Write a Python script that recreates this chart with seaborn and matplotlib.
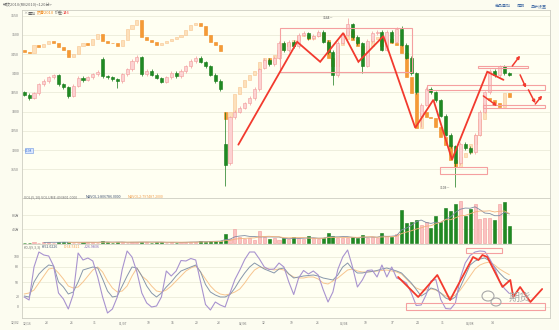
import numpy as np
import matplotlib
matplotlib.use('Agg')
import matplotlib.pyplot as plt
import seaborn as sns
from matplotlib.patches import Rectangle, Ellipse

# ---------------- data ----------------
main_open = [3350, 3344, 3336, 3348, 3372, 3380, 3390, 3395, 3372, 3365,
             3342, 3368, 3389, 3383, 3390, 3398, 3438, 3392, 3390, 3384,
             3380, 3398, 3410, 3432, 3443, 3398, 3406, 3396, 3388, 3378,
             3390, 3402, 3392, 3406, 3418, 3432, 3440, 3430, 3418, 3396,
             3380, 3215, 3165, 3285, 3300, 3310, 3322, 3335, 3360, 3415,
             3435, 3425, 3440, 3480, 3460, 3482, 3470, 3500, 3505, 3492,
             3498, 3508, 3482, 3455, 3395, 3480, 3500, 3528, 3495, 3478,
             3420, 3485, 3505, 3508, 3462, 3508, 3482, 3515, 3475, 3440,
             3400, 3290, 3318, 3360, 3350, 3330, 3290, 3240, 3210, 3165,
             3215, 3205, 3195, 3240, 3300, 3350, 3405, 3395, 3418, 3400]
main_close = [3344, 3336, 3348, 3372, 3380, 3390, 3395, 3372, 3365, 3342,
              3368, 3389, 3383, 3390, 3398, 3404, 3392, 3390, 3384, 3380,
              3398, 3410, 3432, 3443, 3398, 3406, 3396, 3388, 3378, 3390,
              3402, 3392, 3406, 3418, 3432, 3440, 3430, 3418, 3396, 3380,
              3358, 3160, 3285, 3300, 3310, 3322, 3335, 3360, 3410, 3435,
              3425, 3440, 3480, 3460, 3482, 3470, 3500, 3505, 3492, 3498,
              3508, 3482, 3455, 3395, 3480, 3500, 3528, 3495, 3478, 3420,
              3485, 3505, 3508, 3462, 3508, 3482, 3515, 3475, 3440, 3400,
              3350, 3318, 3360, 3350, 3330, 3290, 3240, 3210, 3165, 3215,
              3205, 3195, 3240, 3300, 3350, 3405, 3395, 3418, 3400, 3396]
main_high = [3354, 3348, 3350, 3376, 3384, 3394, 3399, 3398, 3376, 3368,
             3371, 3392, 3392, 3394, 3402, 3408, 3442, 3396, 3394, 3388,
             3402, 3414, 3436, 3447, 3446, 3410, 3410, 3400, 3391, 3394,
             3406, 3405, 3410, 3422, 3436, 3445, 3444, 3433, 3421, 3400,
             3384, 3300, 3290, 3305, 3315, 3326, 3340, 3365, 3415, 3440,
             3440, 3445, 3485, 3484, 3486, 3486, 3504, 3510, 3508, 3502,
             3512, 3512, 3486, 3460, 3484, 3505, 3544, 3532, 3499, 3482,
             3490, 3510, 3514, 3512, 3512, 3512, 3520, 3522, 3478, 3444,
             3404, 3322, 3365, 3364, 3354, 3334, 3294, 3244, 3214, 3220,
             3220, 3210, 3245, 3305, 3355, 3410, 3410, 3422, 3422, 3404]
main_low = [3340, 3330, 3332, 3344, 3368, 3376, 3386, 3368, 3360, 3336,
            3338, 3364, 3378, 3380, 3386, 3394, 3388, 3386, 3380, 3362,
            3376, 3394, 3406, 3428, 3394, 3394, 3392, 3384, 3374, 3375,
            3386, 3388, 3388, 3402, 3414, 3428, 3426, 3414, 3392, 3376,
            3354, 3105, 3160, 3280, 3296, 3306, 3318, 3330, 3355, 3410,
            3420, 3420, 3436, 3455, 3456, 3465, 3466, 3496, 3488, 3488,
            3494, 3478, 3450, 3370, 3390, 3476, 3496, 3490, 3474, 3400,
            3416, 3480, 3500, 3458, 3458, 3478, 3478, 3470, 3436, 3395,
            3345, 3260, 3314, 3345, 3326, 3285, 3236, 3205, 3103, 3160,
            3200, 3190, 3190, 3236, 3296, 3346, 3390, 3390, 3395, 3392]

ovl_open = [3460, 3456, 3453, 3475, 3469, 3477, 3485, 3480, 3469, 3460,
            3442, 3450, 3470, 3480, 3474, 3490, 3503, 3485, 3480, 3478,
            3470, 3488, 3515, 3526, 3538, 3495, 3488, 3482, 3474, 3479,
            3484, 3490, 3495, 3500, 3513, 3526, 3530, 3524, 3500, 3482,
            3474, 3300, 3280, 3300, 3345, 3365, 3383, 3396, 3405, 3430,
            3440, 3428, 3448, 3462, 3478, 3470, 3488, 3496, 3500, 3490,
            3497, 3505, 3487, 3440, 3420, 3475, 3490, 3510, 3488, 3470,
            3445, 3470, 3490, 3495, 3470, 3490, 3480, 3474, 3453, 3390,
            3349, 3258, 3300, 3287, 3284, 3260, 3235, 3214, 3175, 3157,
            3183, 3193, 3215, 3240, 3280, 3336, 3331, 3323, 3313, 3349]
ovl_close = [3456, 3453, 3475, 3469, 3477, 3485, 3480, 3469, 3460, 3442,
             3450, 3470, 3480, 3474, 3490, 3503, 3485, 3480, 3478, 3470,
             3488, 3515, 3526, 3538, 3495, 3488, 3482, 3474, 3479, 3484,
             3490, 3495, 3500, 3513, 3526, 3530, 3524, 3500, 3482, 3474,
             3458, 3280, 3300, 3345, 3365, 3383, 3396, 3405, 3430, 3440,
             3428, 3448, 3462, 3478, 3470, 3488, 3496, 3500, 3490, 3497,
             3505, 3487, 3440, 3420, 3475, 3490, 3510, 3488, 3470, 3445,
             3470, 3490, 3495, 3470, 3490, 3480, 3474, 3453, 3390, 3349,
             3258, 3300, 3287, 3284, 3260, 3235, 3214, 3175, 3157, 3183,
             3193, 3215, 3240, 3280, 3323, 3331, 3323, 3313, 3349, 3339]

volume_wan = [2, 1, 3, 2, 4, 3, 2, 3, 4, 3,
              2, 2, 3, 4, 3, 2, 6, 3, 2, 4,
              3, 2, 4, 3, 5, 3, 2, 4, 3, 2,
              3, 2, 3, 4, 5, 4, 6, 5, 6, 7,
              6, 27, 12, 40, 18, 12, 15, 10, 35, 18,
              12, 14, 10, 16, 12, 18, 14, 12, 20, 14,
              12, 15, 28, 22, 14, 16, 14, 18, 14, 24,
              16, 18, 14, 30, 20, 18, 26, 94, 57, 60,
              66, 52, 60, 43, 77, 60, 100, 91, 110, 120,
              77, 97, 111, 70, 72, 71, 66, 111, 117, 49.38]

kdj_k = [22, 20, 50, 66, 76, 84, 82, 50, 40, 26,
         30, 50, 74, 77, 80, 78, 56, 32, 20, 22,
         42, 62, 80, 78, 62, 42, 28, 20, 28, 40,
         50, 62, 72, 76, 80, 84, 70, 45, 30, 24,
         20, 20, 25, 38, 54, 68, 80, 88, 82, 76,
         72, 68, 76, 78, 66, 58, 60, 62, 63, 64,
         62, 58, 56, 54, 64, 80, 88, 76, 68, 68,
         70, 71, 73, 76, 78, 75, 72, 68, 58, 48,
         35, 22, 28, 38, 35, 28, 18, 14, 20, 40,
         62, 84, 92, 96, 98, 92, 80, 68, 58, 52.02]
kdj_d = [26, 28, 34, 48, 62, 76, 78, 68, 56, 42,
         38, 40, 50, 62, 74, 80, 70, 52, 38, 30,
         32, 42, 62, 78, 62, 54, 42, 32, 30, 34,
         42, 52, 62, 72, 78, 82, 70, 56, 42, 32,
         26, 24, 26, 30, 36, 48, 62, 74, 80, 78,
         76, 74, 76, 74, 66, 60, 58, 58, 60, 60,
         56, 48, 46, 52, 58, 66, 74, 76, 72, 70,
         70, 71, 72, 73, 74, 72, 70, 66, 56, 46,
         38, 34, 34, 36, 34, 28, 22, 20, 24, 34,
         48, 62, 76, 84, 88, 90, 84, 76, 70, 64.54]
kdj_j = [20, 14, 80, 110, 104, 102, 82, 28, 16, -4,
         25, 108, 94, 98, 92, 60, 20, -12, -4, 20,
         75, 112, 100, 70, 28, 8, 0, 2, 20, 72,
         62, 72, 93, 92, 97, 94, 50, 5, -6, 10,
         4, 0, 28, 55, 74, 95, 110, 110, 96, 80,
         75, 76, 88, 80, 50, 25, 58, 73, 66, 72,
         64, 35, 10, 30, 75, 100, 114, 80, 40, 54,
         73, 74, 60, 84, 60, 80, 58, 54, 48, 28,
         3, 4, 24, 52, 55, 15, -3, -4, 8, 58,
         88, 103, 110, 112, 111, 96, 78, 52, 37, 26.98]

tick_labels = ['12/16', '23', '26', '31', '01/07', '10', '15', '20', '23', '02/06',
               '12', '19', '26', '03/04', '10', '17', '24', '31', '04/08', '14']
tick_index = [0.6, 4.7, 9.6, 14.5, 20.2, 25.3, 30.2, 35.1, 39.8, 44.7,
              48.8, 54.5, 59.8, 65.3, 69.6, 75.1, 80.4, 85.5, 91.0, 95.5]

# hand-drawn analysis marks (candle index, price / KDJ value)
trend_x = [43.7, 55.7, 60.4, 65.1, 68.2, 73.3, 79.8, 83.5, 87.3, 94.5, 97.8]
trend_y = [3214, 3482, 3430, 3505, 3430, 3497, 3258, 3331, 3175, 3404, 3383]
kdj_trend_x = [76.3, 80.4, 84.3, 86.9, 91.6, 92.7, 93.5, 94.5, 97.6, 99.2, 99.8, 101.2, 103.3, 105.7]
kdj_trend_y = [60, 20, 64, 14, 100, 94, 104, 100, 40, 54, 20, 40, 10, 36]
price_boxes = [(52.2, 3404, 79.2, 3518), (82.2, 3357, 106.3, 3370),
               (93.7, 3310, 106.3, 3318), (92.7, 3414, 102.9, 3420),
               (84.9, 3138, 94.5, 3156)]
kdj_boxes = [(90.2, 108, 97.6, 118), (78.0, -6, 106.3, 8)]
arrow_segments = [((93.7, 3341), (96.5, 3315)), ((99.6, 3419), (101.2, 3446)),
                  ((101.2, 3396), (102.4, 3362)), ((102.9, 3357), (104.3, 3322)),
                  ((104.3, 3320), (105.7, 3342))]

# ---------------- style ----------------
sns.set_theme(style='white')
plt.rcParams['font.family'] = ['Noto Sans CJK SC', 'DejaVu Sans']
plt.rcParams['axes.unicode_minus'] = False

W, H = 559, 330
fig = plt.figure(figsize=(W / 100, H / 100), dpi=100)
fig.patch.set_facecolor('#fcfcf0')
BG = '#fffff2'
GRID = '#ebebd9'
SP = '#cdcdc2'
TXT = '#7a7a7a'

L, R = 22 / W, 550 / W
ax1 = fig.add_axes([L, 1 - 198 / H, R - L, (198 - 10) / H])
ax2 = fig.add_axes([L, 1 - 244 / H, R - L, (244 - 198) / H])
ax3 = fig.add_axes([L, 1 - 318 / H, R - L, (318 - 244) / H])

idx = np.arange(len(main_close))
XL = (-0.45, 107.3)


def draw_candles(ax, o, c, h, l, up_fc, up_ec, dn_fc, dn_ec, z):
    o = np.asarray(o, float)
    c = np.asarray(c, float)
    up = c >= o
    lo = np.minimum(o, c)
    hg = np.maximum(np.abs(c - o), 1.5)
    if h is not None:
        h = np.asarray(h, float)
        l = np.asarray(l, float)
        ax.vlines(idx[up], l[up], h[up], color=up_ec, lw=0.5, zorder=z)
        ax.vlines(idx[~up], l[~up], h[~up], color=dn_ec, lw=0.5, zorder=z)
    ax.bar(idx[up], hg[up], bottom=lo[up], width=0.62, color=up_fc,
           edgecolor=up_ec, linewidth=0.4, zorder=z + 0.1)
    ax.bar(idx[~up], hg[~up], bottom=lo[~up], width=0.62, color=dn_fc,
           edgecolor=dn_ec, linewidth=0.4, zorder=z + 0.1)


for ax in (ax1, ax2, ax3):
    ax.set_facecolor(BG)
    ax.set_xlim(*XL)
    for s in ax.spines.values():
        s.set_color(SP)
        s.set_linewidth(0.6)
    ax.tick_params(axis='both', length=0, pad=2, labelsize=2.6, labelcolor=TXT)
    ax.set_xticks([])

# ---- price panel ----
draw_candles(ax1, ovl_open, ovl_close, None, None,
             '#fde0bb', '#f8c58e', '#f59a35', '#f08a20', 2)
draw_candles(ax1, main_open, main_close, main_high, main_low,
             '#fcd2d2', '#f29a9a', '#1f8a22', '#177a1a', 3)
ax1.set_ylim(3075, 3565)
ax1.set_yticks([3150, 3200, 3250, 3300, 3350, 3400, 3450, 3500, 3550])
ax1.grid(axis='y', color=GRID, lw=0.6, zorder=0)
ax1.set_axisbelow(True)

for (x0, y0, x1, y1) in price_boxes:
    ax1.add_patch(Rectangle((x0, y0), x1 - x0, y1 - y0, fill=False,
                            ec='#f5a0a0', lw=0.8, zorder=5))
ax1.plot(trend_x, trend_y, color='#f23a2e', lw=1.3, zorder=6, solid_joinstyle='miter')
for (a, b) in arrow_segments:
    ax1.annotate('', xy=b, xytext=a,
                 arrowprops=dict(arrowstyle='-|>', color='#f23a2e', lw=1.1,
                                 mutation_scale=4, shrinkA=0, shrinkB=0), zorder=6)
ax1.text(63.2, 3544, '3544—', fontsize=2.4, color='#555', ha='right', va='center', zorder=7)
ax1.text(85.8, 3101, '3103—', fontsize=2.4, color='#555', ha='center', va='center', zorder=7)
ax1.text(0.2, 3198, '3198', fontsize=2.4, color='#3a6fd0', va='center', ha='left',
         bbox=dict(boxstyle='square,pad=0.15', fc='#dce8ff', ec='#6a94e0', lw=0.4), zorder=7)

# ---- volume panel ----
up_mask = np.asarray(main_close) >= np.asarray(main_open)
vol = np.asarray(volume_wan, float)
ax2.bar(idx[up_mask], vol[up_mask], width=0.62, color='#fbc2c2', edgecolor='#f29a9a',
        linewidth=0.4, zorder=3)
ax2.bar(idx[~up_mask], vol[~up_mask], width=0.62, color='#1f8a22', edgecolor='#177a1a',
        linewidth=0.4, zorder=3)
ma5 = np.convolve(vol, np.ones(5) / 5, mode='full')[:len(vol)]
ma10 = np.convolve(vol, np.ones(10) / 10, mode='full')[:len(vol)]
sns.lineplot(x=idx[4:], y=ma5[4:], ax=ax2, color='#7f8ca3', linewidth=0.6, zorder=4, legend=False)
sns.lineplot(x=idx[9:], y=ma10[9:], ax=ax2, color='#f3b27a', linewidth=0.6, zorder=4, legend=False)
ax2.set_ylim(-2, 128)
ax2.set_yticks([40, 80])
ax2.set_yticklabels(['40万', '80万'])
ax2.grid(axis='y', color=GRID, lw=0.6, zorder=0)
ax2.set_xlim(*XL)
ax2.set_xlabel('')

# ---- KDJ panel ----
sns.lineplot(x=idx, y=kdj_d, ax=ax3, color='#f7c58f', linewidth=0.7, legend=False, zorder=3)
sns.lineplot(x=idx, y=kdj_k, ax=ax3, color='#8797ab', linewidth=0.7, legend=False, zorder=3)
sns.lineplot(x=idx, y=kdj_j, ax=ax3, color='#a893cf', linewidth=0.8, legend=False, zorder=3)
for (x0, y0, x1, y1) in kdj_boxes:
    ax3.add_patch(Rectangle((x0, y0), x1 - x0, y1 - y0, fill=False,
                            ec='#f5a0a0', lw=0.8, zorder=5))
ax3.plot(kdj_trend_x, kdj_trend_y, color='#f23a2e', lw=1.3, zorder=6)
ax3.set_ylim(-22, 126)
ax3.set_yticks([0, 20, 50, 80, 100])
ax3.grid(axis='y', color=GRID, lw=0.6, zorder=0)
ax3.set_xlim(*XL)
ax3.set_xticks(tick_index)
ax3.set_xticklabels(tick_labels)
ax3.tick_params(axis='x', labelsize=2.4, labelcolor=TXT, pad=2.5)
ax3.set_xlabel('')
ax3.set_ylabel('')
ax2.set_ylabel('')


# ---- header texts ----
def ft(x, y, s, **kw):
    kw.setdefault('va', 'center')
    fig.text(x / W, 1 - y / H, s, **kw)


ft(3, 5, '螺纹2010(RB2010)<120分>', fontsize=2.9, color='#666')
ft(23.5, 13.5, '×', fontsize=3, color='#888')
ft(27.5, 13.5, '叠加', fontsize=2.9, color='#666')
ft(37, 13.5, '热卷2010', fontsize=2.9, color='#f08a20')
ft(55, 13.5, '价差:', fontsize=2.9, color='#666')
ft(63, 13.5, '146', fontsize=2.9, color='#e83030')
ft(495, 6, '商品叠加', fontsize=2.9, color='#4b72a8')
ft(517, 6, '周期', fontsize=2.9, color='#4b72a8')
ft(531, 6, '显示设置', fontsize=2.9, color='#4b72a8')
ft(15, 322, '12/02', fontsize=2.4, color=TXT, ha='center')

ft(23.5, 197.5, 'VOL(5,10) VOLUME:493801.0000', fontsize=2.6, color='#777')
ft(86, 197.5, 'MAVOL1:806786.0000', fontsize=2.6, color='#3e5170')
ft(128, 197.5, 'MAVOL2:797487.2000', fontsize=2.6, color='#f0a050')
ft(23.5, 247.5, 'KDJ(9,3,3)', fontsize=2.6, color='#777')
ft(42, 247.5, 'K:52.0226', fontsize=2.6, color='#3e5170')
ft(63.5, 247.5, 'D:64.5421', fontsize=2.6, color='#f0a050')
ft(84, 247.5, 'J:26.9836', fontsize=2.6, color='#7a5cb0')

# watermark
fig.add_artist(Ellipse((488 / W, 1 - 296 / H), 12 / W, 10 / H, transform=fig.transFigure,
                       fill=False, ec='#a8a8a8', lw=0.8))
fig.add_artist(Ellipse((496 / W, 1 - 302 / H), 10 / W, 8 / H, transform=fig.transFigure,
                       fill=False, ec='#a8a8a8', lw=0.8))
ft(509, 298, '期货', fontsize=8, color='#a8a8a8')

fig.savefig('out.png', dpi=100, facecolor=fig.get_facecolor())
